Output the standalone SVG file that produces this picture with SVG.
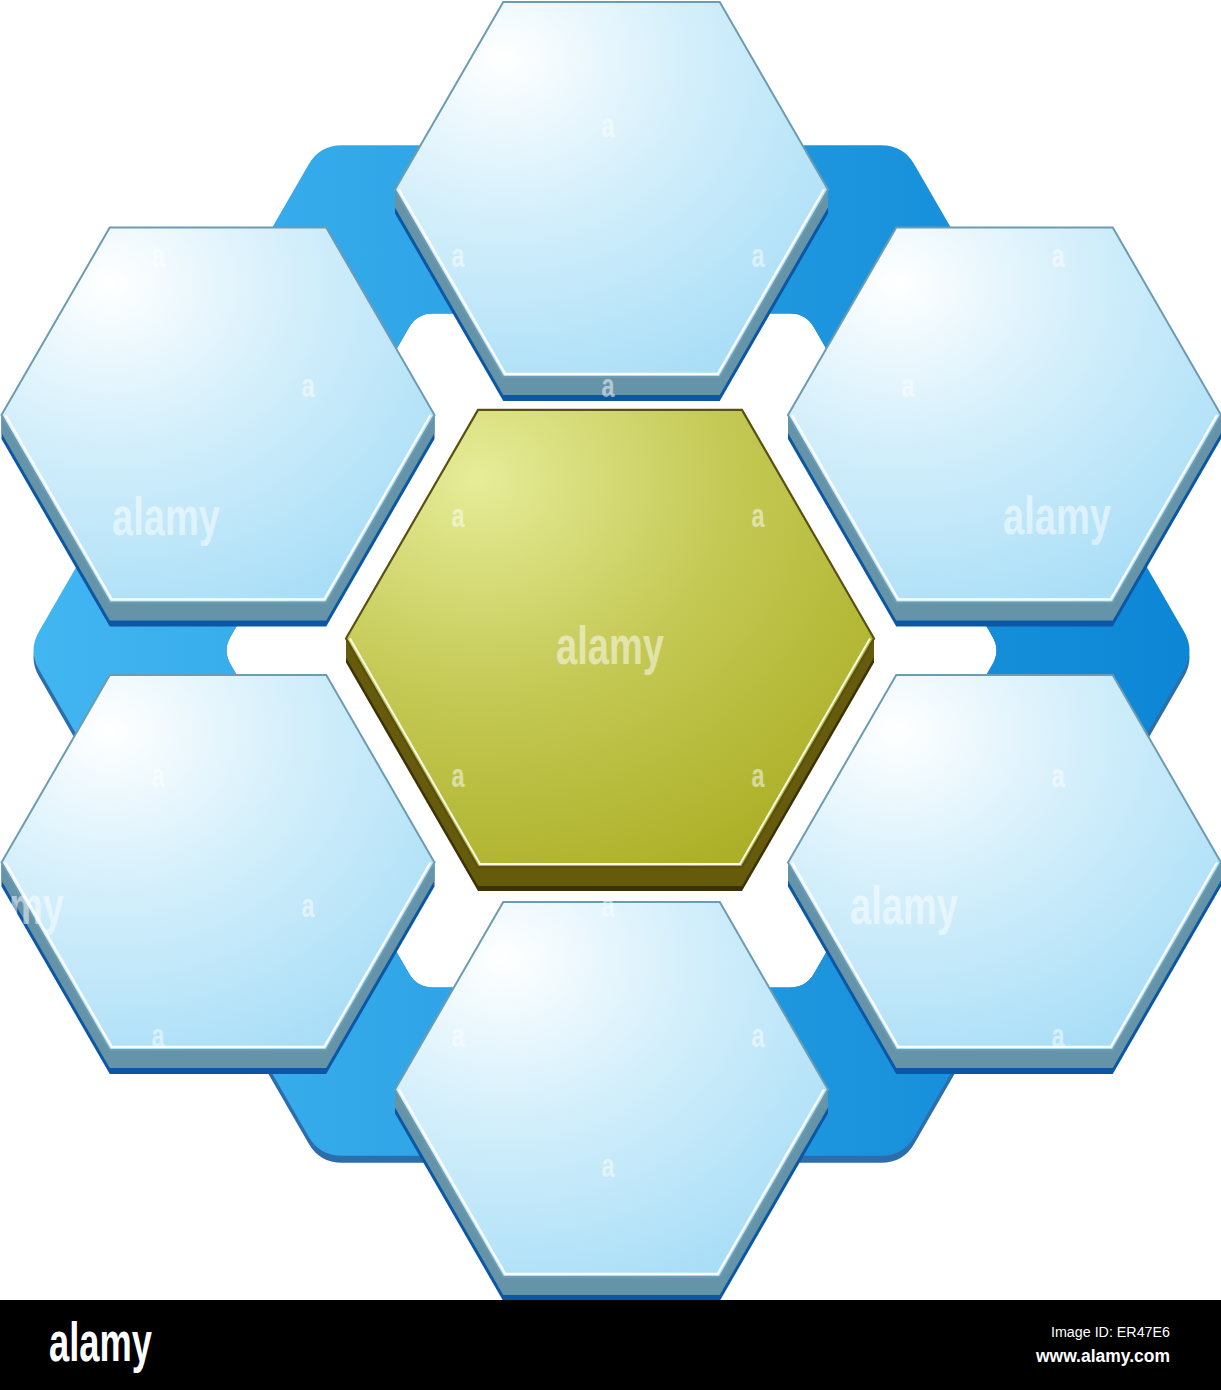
<svg xmlns="http://www.w3.org/2000/svg" width="1221" height="1390" viewBox="0 0 1221 1390">
<style>
.t-dark{fill:#0B57A5}
.t-side{fill:#6593A8}
.t-face{fill:url(#gBlue);stroke:#6C9CB3;stroke-width:2;stroke-linejoin:miter}
.t-hl{fill:none;stroke:#FFFFFF;stroke-width:2.2;stroke-linejoin:miter}
.o-dark{fill:#3A3306}
.o-side{fill:#665A0C}
.o-face{fill:url(#gOlive);stroke:#5A5010;stroke-width:2.2;stroke-linejoin:miter}
.o-hl{fill:none;stroke:#FFFFFF;stroke-width:2;stroke-linejoin:miter;opacity:.9}
.wm{fill:#FFFFFF;opacity:.5;font-family:"Liberation Sans",Arial,sans-serif;font-weight:bold}
.wmL{font-size:54px}
.wmS{font-size:34px}
.bar{fill:#FFFFFF;font-family:"Liberation Sans",Arial,sans-serif}
</style>
<defs>
<radialGradient id="gBlue" cx="0.25" cy="0.15" r="0.95" fx="0.25" fy="0.15">
<stop offset="0" stop-color="#FFFFFF"/>
<stop offset="0.45" stop-color="#D4EFFB"/>
<stop offset="1" stop-color="#A9DEF7"/>
</radialGradient>
<radialGradient id="gOlive" cx="0.25" cy="0.15" r="0.95" fx="0.25" fy="0.15">
<stop offset="0" stop-color="#E6EC98"/>
<stop offset="0.5" stop-color="#C4C955"/>
<stop offset="1" stop-color="#ACB027"/>
</radialGradient>
<linearGradient id="gBand" gradientUnits="userSpaceOnUse" x1="28" y1="0" x2="1195" y2="0">
<stop offset="0" stop-color="#42B6F1"/>
<stop offset="1" stop-color="#0C86D5"/>
</linearGradient>
<g id="tile">
<polygon class="t-dark" points="-216.5,0 -216.5,24 -108.25,211.5 108.25,211.5 216.5,24 216.5,0"/>
<polygon class="t-side" points="-216.5,0 -216.5,18 -108.25,205.5 108.25,205.5 216.5,18 216.5,0"/>
<polygon class="t-face" points="-216.5,0 -108.25,-187.5 108.25,-187.5 216.5,0 108.25,187.5 -108.25,187.5"/>
<polyline class="t-hl" points="-212.5,0 -106.25,184.3 106.25,184.3 212.5,0"/>
</g>
</defs>
<rect x="0" y="0" width="1221" height="1390" fill="#FFFFFF"/>

<g id="band">
<path fill="#2C6DAD" fill-rule="evenodd" d="M39,638.45 L308.75,171.25 Q319.75,152.2 341.75,152.2 L881.25,152.2 Q903.25,152.2 914.25,171.25 L1184,638.45 Q1195,657.5 1184,676.55 L914.25,1143.75 Q903.25,1162.8 881.25,1162.8 L341.75,1162.8 Q319.75,1162.8 308.75,1143.75 L39,676.55 Q28,657.5 39,638.45 Z M230.5,636.64 L409,327.46 Q417,313.6 433,313.6 L790,313.6 Q806,313.6 814,327.46 L992.5,636.64 Q1000.5,650.5 992.5,664.36 L814,973.54 Q806,987.4 790,987.4 L433,987.4 Q417,987.4 409,973.54 L230.5,664.36 Q222.5,650.5 230.5,636.64 Z"/>
<path fill="url(#gBand)" fill-rule="evenodd" d="M39,631.45 L308.75,164.25 Q319.75,145.2 341.75,145.2 L881.25,145.2 Q903.25,145.2 914.25,164.25 L1184,631.45 Q1195,650.5 1184,669.55 L914.25,1136.75 Q903.25,1155.8 881.25,1155.8 L341.75,1155.8 Q319.75,1155.8 308.75,1136.75 L39,669.55 Q28,650.5 39,631.45 Z M230.5,636.64 L409,327.46 Q417,313.6 433,313.6 L790,313.6 Q806,313.6 814,327.46 L992.5,636.64 Q1000.5,650.5 992.5,664.36 L814,973.54 Q806,987.4 790,987.4 L433,987.4 Q417,987.4 409,973.54 L230.5,664.36 Q222.5,650.5 230.5,636.64 Z"/>
</g>

<g id="node-top"><use href="#tile" transform="translate(611.5,189.5)"/></g>
<g id="node-upper-left"><use href="#tile" transform="translate(218,415)"/></g>
<g id="node-upper-right"><use href="#tile" transform="translate(1004.5,415)"/></g>
<g id="node-lower-left"><use href="#tile" transform="translate(218,862.5)"/></g>
<g id="node-lower-right"><use href="#tile" transform="translate(1004.5,862.5)"/></g>
<g id="node-bottom"><use href="#tile" transform="translate(611.5,1089.5)"/></g>

<g id="node-center" transform="translate(610,638.5)">
<polygon class="o-dark" points="-264,0 -264,24 -132,252.6 132,252.6 264,24 264,0"/>
<polygon class="o-side" points="-264,0 -264,19 -132,247.6 132,247.6 264,19 264,0"/>
<polygon class="o-face" points="-264,0 -132,-228.6 132,-228.6 264,0 132,228.6 -132,228.6"/>
<polyline class="o-hl" points="-260,0 -130,225.4 130,225.4 260,0"/>
</g>

<g id="watermarks" class="wm">
<text class="wmL" x="166" y="535" text-anchor="middle" textLength="108" lengthAdjust="spacingAndGlyphs">alamy</text>
<text class="wmL" x="610" y="664" text-anchor="middle" textLength="108" lengthAdjust="spacingAndGlyphs">alamy</text>
<text class="wmL" x="1057" y="534" text-anchor="middle" textLength="108" lengthAdjust="spacingAndGlyphs">alamy</text>
<text class="wmL" x="904" y="924" text-anchor="middle" textLength="108" lengthAdjust="spacingAndGlyphs">alamy</text>
<text class="wmL" x="9" y="924" textLength="55" lengthAdjust="spacingAndGlyphs">my</text>
<text class="wmS" x="608" y="137" text-anchor="middle" textLength="13" lengthAdjust="spacingAndGlyphs">a</text>
<text class="wmS" x="158" y="267" text-anchor="middle" textLength="13" lengthAdjust="spacingAndGlyphs">a</text>
<text class="wmS" x="458" y="267" text-anchor="middle" textLength="13" lengthAdjust="spacingAndGlyphs">a</text>
<text class="wmS" x="758" y="267" text-anchor="middle" textLength="13" lengthAdjust="spacingAndGlyphs">a</text>
<text class="wmS" x="1058" y="267" text-anchor="middle" textLength="13" lengthAdjust="spacingAndGlyphs">a</text>
<text class="wmS" x="308" y="397" text-anchor="middle" textLength="13" lengthAdjust="spacingAndGlyphs">a</text>
<text class="wmS" x="608" y="397" text-anchor="middle" textLength="13" lengthAdjust="spacingAndGlyphs">a</text>
<text class="wmS" x="908" y="397" text-anchor="middle" textLength="13" lengthAdjust="spacingAndGlyphs">a</text>
<text class="wmS" x="458" y="527" text-anchor="middle" textLength="13" lengthAdjust="spacingAndGlyphs">a</text>
<text class="wmS" x="758" y="527" text-anchor="middle" textLength="13" lengthAdjust="spacingAndGlyphs">a</text>
<text class="wmS" x="158" y="787" text-anchor="middle" textLength="13" lengthAdjust="spacingAndGlyphs">a</text>
<text class="wmS" x="458" y="787" text-anchor="middle" textLength="13" lengthAdjust="spacingAndGlyphs">a</text>
<text class="wmS" x="758" y="787" text-anchor="middle" textLength="13" lengthAdjust="spacingAndGlyphs">a</text>
<text class="wmS" x="1058" y="787" text-anchor="middle" textLength="13" lengthAdjust="spacingAndGlyphs">a</text>
<text class="wmS" x="308" y="917" text-anchor="middle" textLength="13" lengthAdjust="spacingAndGlyphs">a</text>
<text class="wmS" x="608" y="917" text-anchor="middle" textLength="13" lengthAdjust="spacingAndGlyphs">a</text>
<text class="wmS" x="158" y="1047" text-anchor="middle" textLength="13" lengthAdjust="spacingAndGlyphs">a</text>
<text class="wmS" x="458" y="1047" text-anchor="middle" textLength="13" lengthAdjust="spacingAndGlyphs">a</text>
<text class="wmS" x="758" y="1047" text-anchor="middle" textLength="13" lengthAdjust="spacingAndGlyphs">a</text>
<text class="wmS" x="1058" y="1047" text-anchor="middle" textLength="13" lengthAdjust="spacingAndGlyphs">a</text>
<text class="wmS" x="608" y="1177" text-anchor="middle" textLength="13" lengthAdjust="spacingAndGlyphs">a</text>
</g>

<g id="footer">
<rect x="0" y="1300" width="1221" height="90" fill="#000000"/>
<text class="bar" x="49" y="1361" font-size="56" font-weight="bold" textLength="103" lengthAdjust="spacingAndGlyphs">alamy</text>
<text class="bar" x="1170" y="1337" font-size="14" text-anchor="end" textLength="119" lengthAdjust="spacingAndGlyphs">Image ID: ER47E6</text>
<text class="bar" x="1170" y="1362" font-size="18" font-weight="bold" text-anchor="end" textLength="134" lengthAdjust="spacingAndGlyphs">www.alamy.com</text>
</g>
</svg>
